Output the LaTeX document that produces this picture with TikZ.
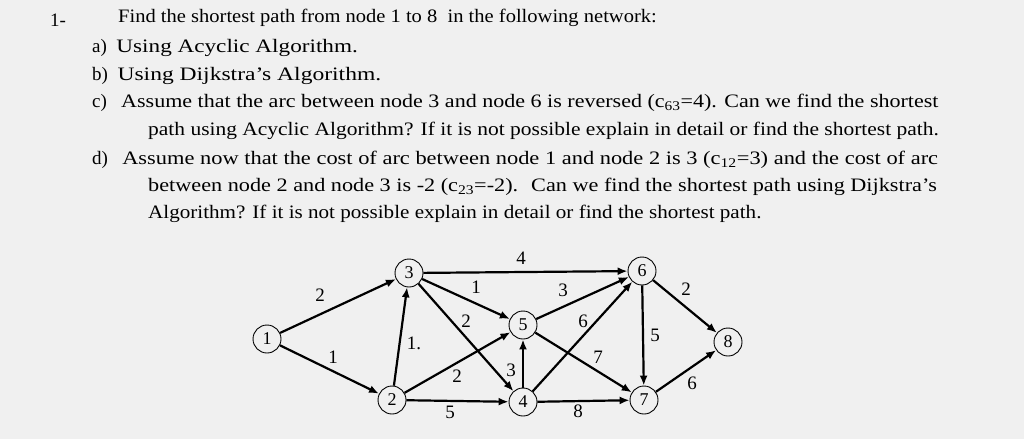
\documentclass[tikz,border=0pt]{standalone}
\usepackage{fontspec}
\setmainfont{Liberation Serif}
\usetikzlibrary{arrows.meta}
\begin{document}
\begin{tikzpicture}[x=1pt,y=-1pt,
  nd/.style={draw,circle,minimum size=28pt,inner sep=0pt,font=\fontsize{18}{18}\selectfont,line width=0.9pt},
  ed/.style={-{Latex[length=10pt,width=8pt]},line width=2.2pt},
  lb/.style={font=\fontsize{19}{19}\selectfont},
  tx/.style={anchor=west,font=\fontsize{19}{19}\selectfont,inner sep=0pt}]
\fill[gray!12] (0,0) rectangle (1024,439);
\useasboundingbox (0,0) rectangle (1024,439);
\node[tx] (t0) at (50,20) {1-};
\node[tx] (t1) at (118,18) {\scalebox{1.08}[1]{Find the shortest path from node 1 to 8 \ in the following network:}};
\node[tx] (ta) at (92,48) {a)\ \ \scalebox{1.22}[1]{Using Acyclic Algorithm.}};
\node[tx] (tb) at (92,76) {b)\ \ \scalebox{1.24}[1]{Using Dijkstra’s Algorithm.}};
\node[tx] (tc) at (92,103) {c)\ \ \ \scalebox{1.16}[1]{Assume that the arc between node 3 and node 6 is reversed (c\textsubscript{63}=4). Can we find the shortest}};
\node[tx] (tc2) at (148,131) {\scalebox{1.13}[1]{path using Acyclic Algorithm? If it is not possible explain in detail or find the shortest path.}};
\node[tx] (td) at (92,160) {d)\ \ \ \scalebox{1.18}[1]{Assume now that the cost of arc between node 1 and node 2 is 3 (c\textsubscript{12}=3) and the cost of arc}};
\node[tx] (td2) at (148,187) {\scalebox{1.17}[1]{between node 2 and node 3 is -2 (c\textsubscript{23}=-2). \ Can we find the shortest path using Dijkstra’s}};
\node[tx] (td3) at (148,214) {\scalebox{1.11}[1]{Algorithm? If it is not possible explain in detail or find the shortest path.}};
\node[nd] (n1) at (267,339) {1};
\node[nd] (n2) at (392,400) {2};
\node[nd] (n3) at (409,273) {3};
\node[nd] (n4) at (523,402) {4};
\node[nd] (n5) at (523,325) {5};
\node[nd] (n6) at (642,271) {6};
\node[nd] (n7) at (644,400) {7};
\node[nd] (n8) at (728,342) {8};
\draw[ed] (n1)--(n3); \draw[ed] (n1)--(n2); \draw[ed] (n2)--(n3);
\draw[ed] (n3)--(n6); \draw[ed] (n3)--(n5); \draw[ed] (n3)--(n4);
\draw[ed] (n2)--(n5); \draw[ed] (n2)--(n4); \draw[ed] (n4)--(n5);
\draw[ed] (n5)--(n6); \draw[ed] (n4)--(n6); \draw[ed] (n5)--(n7);
\draw[ed] (n4)--(n7); \draw[ed] (n6)--(n7); \draw[ed] (n6)--(n8);
\draw[ed] (n7)--(n8);
\node[lb] (l13) at (320,295) {2};
\node[lb] (l12) at (333,357) {1};
\node[lb] (l23) at (414,343) {1.};
\node[lb] (l36) at (521,258) {4};
\node[lb] (l35) at (476,287) {1};
\node[lb] (l34) at (466,321) {2};
\node[lb] (l25) at (457,376) {2};
\node[lb] (l24) at (450,412) {5};
\node[lb] (l45) at (511,370) {3};
\node[lb] (l56) at (563,290) {3};
\node[lb] (l46) at (583,321) {6};
\node[lb] (l57) at (598,357) {7};
\node[lb] (l47) at (578,411) {8};
\node[lb] (l67) at (655,335) {5};
\node[lb] (l68) at (686,289) {2};
\node[lb] (l78) at (692,383) {6};
\end{tikzpicture}
\end{document}
